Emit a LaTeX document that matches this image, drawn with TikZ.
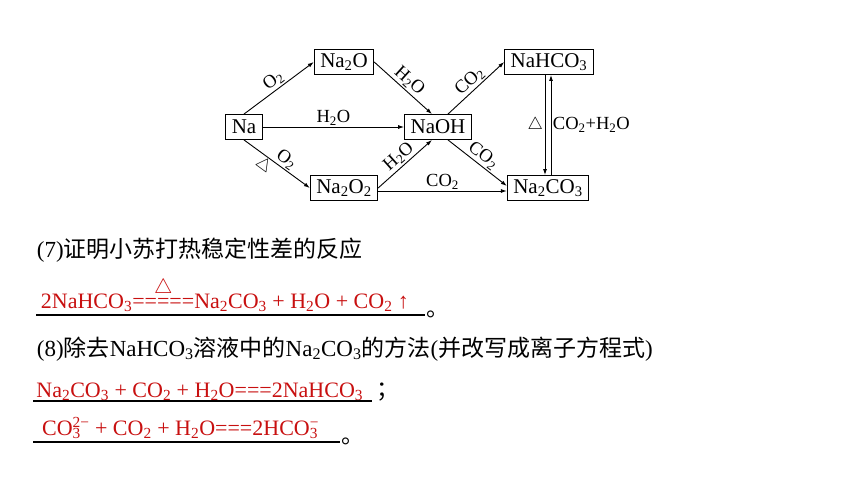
\documentclass[tikz,border=0pt]{standalone}
\usepackage{fontspec}
\setmainfont{Liberation Serif}
\newfontfamily\cjk{Noto Sans CJK SC}
\usetikzlibrary{arrows.meta}
\definecolor{ansred}{RGB}{200,16,16}
\newcommand{\ch}[1]{\textsubscript{#1}}
\newcommand{\ionsub}[2]{\rlap{\textsubscript{#1}}\textsuperscript{#2}}
\newsavebox{\heatbox}
\newcommand{\heat}[1]{\sbox{\heatbox}{#1}\rlap{\makebox[\wd\heatbox]{\raisebox{15pt}{$\triangle$}}}\usebox{\heatbox}}

\begin{document}
\begin{tikzpicture}[x=1pt, y=1pt,
    every path/.style={line width=0.9pt},
    >={Latex[length=6pt,width=4pt]},
    chem/.style={draw, minimum height=25pt, inner xsep=6pt, inner ysep=0pt, font=\fontsize{21}{25}\selectfont},
    lab/.style={font=\fontsize{18.5}{22}\selectfont, inner sep=1.5pt},
    head/.style={anchor=base west, inner sep=0pt, font=\fontsize{23}{28}\selectfont},
    ans/.style={anchor=base west, inner sep=0pt, text=ansred, font=\fontsize{22}{26}\selectfont}]
    \useasboundingbox (0,0) rectangle (860,-484);

    \draw (244,-127) node[chem] (na) {Na};
    \draw (344,-62) node[chem] (na2o) {Na\ch{2}O};
    \draw (344,-188) node[chem] (na2o2) {Na\ch{2}O\ch{2}};
    \draw (438,-127) node[chem] (naoh) {NaOH};
    \draw (549,-62) node[chem] (nahco3) {NaHCO\ch{3}};
    \draw (548,-188) node[chem] (na2co3) {Na\ch{2}CO\ch{3}};

    \draw[->] (na.north) -- node[lab, above, sloped] {O\ch{2}} (na2o.west);
    \draw[->] (na.east) -- node[lab, above] {H\ch{2}O} (naoh.west);
    \draw[->] (na.south) -- node[lab, above, sloped, pos=.56] {O\ch{2}} node[lab, below, sloped, pos=.38] {$\triangle$} (na2o2.west);
    \draw[->] (na2o.east) -- node[lab, above, sloped] {H\ch{2}O} ([xshift=-6pt]naoh.north);
    \draw[->] (na2o2.east) -- node[lab, above, sloped] {H\ch{2}O} ([xshift=-6pt]naoh.south);
    \draw[->] ([xshift=10pt]naoh.north) -- node[lab, above, sloped] {CO\ch{2}} (nahco3.west);
    \draw[->] ([xshift=10pt]naoh.south) -- node[lab, above, sloped] {CO\ch{2}} ([yshift=2pt]na2co3.west);
    \draw[->] ([yshift=-3pt]na2o2.east) -- node[lab, above] {CO\ch{2}} ([yshift=-3pt]na2co3.west);
    \draw[->] ([xshift=-4pt]nahco3.south) -- node[lab, left] {$\triangle$} ([xshift=-4pt]nahco3.south |- na2co3.north);
    \draw[->] ([xshift=3pt]na2co3.north) -- node[lab, right] {CO\ch{2}+H\ch{2}O} ([xshift=3pt]na2co3.north |- nahco3.south);

    \node[head] (q7) at (36.5,-257) {(7){\cjk 证明小苏打热稳定性差的反应}};
    \node[ans] (eq7) at (40.5,-308) {2NaHCO\ch{3}\heat{=====}Na\ch{2}CO\ch{3} + H\ch{2}O + CO\ch{2} ↑};
    \draw[line width=1.2pt] (36,-315) -- (425,-315);
    \node[head] (stop7) at (426,-316) {\cjk 。};

    \node[head] (q8) at (36.5,-356) {(8){\cjk 除去}NaHCO\ch{3}{\cjk 溶液中的}Na\ch{2}CO\ch{3}{\cjk 的方法}({\cjk 并改写成离子方程式})};
    \node[ans] (eq8a) at (36,-397) {Na\ch{2}CO\ch{3} + CO\ch{2} + H\ch{2}O===2NaHCO\ch{3}};
    \draw[line width=1.2pt] (33,-401) -- (372,-401);
    \node[head] (semi8) at (376,-397) {\cjk ；};
    \node[ans] (eq8b) at (41.7,-435) {CO\ionsub{3}{2−} + CO\ch{2} + H\ch{2}O===2HCO\ionsub{3}{−}};
    \draw[line width=1.2pt] (33,-442) -- (340,-442);
    \node[head] (stop8) at (341,-443) {\cjk 。};
\end{tikzpicture}
\end{document}
